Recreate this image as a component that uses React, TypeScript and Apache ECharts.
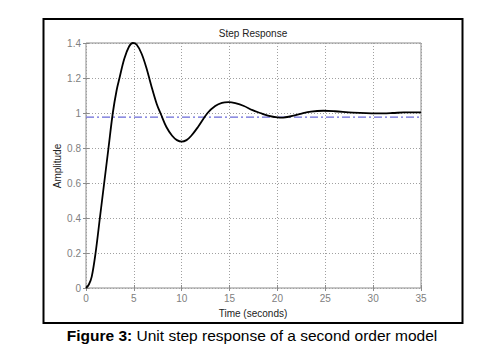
import React, { useEffect, useRef } from "react";
import * as echarts from "echarts";

const timeSeconds = [
  0, 0.3, 0.6, 1.0, 1.45, 1.9, 2.35, 2.8, 3.2, 3.5, 4.0, 4.5, 4.9, 5.3, 5.8, 6.3, 6.8, 7.4, 7.85,
  8.4, 9.0, 9.5, 10.0, 10.5, 11.0, 11.7, 12.7, 13.5, 14.2, 14.9, 15.6, 16.5, 17.4, 18.2, 19.0,
  20.0, 20.6, 21.3, 22.4, 23.5, 24.8, 26.0, 27.9, 30.4, 32.0, 33.2, 35.0,
];
const amplitude = [
  0, 0.02, 0.065, 0.2, 0.4, 0.6, 0.8, 1.0, 1.13, 1.2, 1.31, 1.38, 1.4, 1.39, 1.34, 1.26, 1.16,
  1.05, 0.99, 0.92, 0.87, 0.845, 0.836, 0.845, 0.87, 0.92, 1.0, 1.04, 1.058, 1.062, 1.056, 1.04,
  1.016, 1.0, 0.985, 0.975, 0.974, 0.98, 0.995, 1.008, 1.013, 1.01, 1.002, 0.998, 1.0, 1.003,
  1.004,
];
const referenceLevel = 0.976;
const xTicks = [0, 5, 10, 15, 20, 25, 30, 35];
const yTicks = [0, 0.2, 0.4, 0.6, 0.8, 1, 1.2, 1.4];

const titleText = "Step Response";
const xLabel = "Time (seconds)";
const yLabel = "Amplitude";
const captionBold = "Figure 3:";
const captionRest = " Unit step response of a second order model";

export default function App() {
  const ref = useRef<HTMLDivElement>(null);
  useEffect(() => {
    document.body.style.margin = "0";
    const chart = echarts.init(ref.current!, null, { renderer: "svg" });
    const font = "'Liberation Sans', Arial, sans-serif";
    const xMin = xTicks[0];
    const xMax = xTicks[xTicks.length - 1];
    const yMin = yTicks[0];
    const yMax = yTicks[yTicks.length - 1];
    const gridLine = { show: true, lineStyle: { color: "#a0a0a0", type: [1, 2] as any, width: 1 } };
    const labelStyle = { color: "#808080", fontSize: 10, fontFamily: font };
    const tick = { show: true, inside: true, length: 3, lineStyle: { color: "#8c8c8c" } };
    const smallText = { fontSize: 10, fill: "#222", fontFamily: font, align: "center", verticalAlign: "middle" };
    chart.setOption({
      animation: false,
      backgroundColor: "#ffffff",
      grid: {
        left: 86,
        top: 43,
        width: 335,
        height: 245,
        show: true,
        borderColor: "#8c8c8c",
        borderWidth: 1,
        backgroundColor: "transparent",
      },
      xAxis: [
        {
          type: "value",
          min: xMin,
          max: xMax,
          interval: 5,
          axisLine: { show: false },
          axisTick: tick,
          axisLabel: { ...labelStyle, margin: 5 },
          splitLine: gridLine,
        },
        {
          type: "value",
          position: "top",
          min: xMin,
          max: xMax,
          interval: 5,
          axisLine: { show: false },
          axisTick: tick,
          axisLabel: { show: false },
          splitLine: { show: false },
        },
      ],
      yAxis: [
        {
          type: "value",
          min: yMin,
          max: yMax,
          interval: 0.2,
          axisLine: { show: false },
          axisTick: tick,
          axisLabel: {
            ...labelStyle,
            margin: 5,
            formatter: (v: number) => String(Math.round(v * 10) / 10),
          },
          splitLine: gridLine,
        },
        {
          type: "value",
          position: "right",
          min: yMin,
          max: yMax,
          interval: 0.2,
          axisLine: { show: false },
          axisTick: tick,
          axisLabel: { show: false },
          splitLine: { show: false },
        },
      ],
      series: [
        {
          type: "line",
          data: [
            [xMin, referenceLevel],
            [xMax, referenceLevel],
          ],
          showSymbol: false,
          lineStyle: { color: "#6a6ad8", width: 1.2, type: [8, 3, 2, 3] as any },
          silent: true,
          z: 2,
        },
        {
          type: "line",
          data: timeSeconds.map((t, i) => [t, amplitude[i]]),
          smooth: 0.35,
          showSymbol: false,
          lineStyle: { color: "#000", width: 1.8 },
          silent: true,
          z: 3,
        },
      ],
      graphic: [
        {
          type: "rect",
          shape: { x: 43.5, y: 19, width: 419, height: 304 },
          style: { fill: "none", stroke: "#000", lineWidth: 2 },
          silent: true,
        },
        {
          type: "text",
          x: 253,
          y: 33,
          style: { ...smallText, text: titleText } as any,
        },
        {
          type: "text",
          x: 253,
          y: 313,
          style: { ...smallText, text: xLabel } as any,
        },
        {
          type: "text",
          x: 57,
          y: 166,
          rotation: Math.PI / 2,
          style: { ...smallText, text: yLabel } as any,
        },
        {
          type: "text",
          x: 252,
          y: 335,
          style: {
            text: `{b|${captionBold}}{n|${captionRest}}`,
            align: "center",
            verticalAlign: "middle",
            rich: {
              b: { fontSize: 15.5, fontWeight: "bold", fill: "#000", fontFamily: font },
              n: { fontSize: 15.5, fill: "#000", fontFamily: font },
            },
          } as any,
        },
      ],
    });
    return () => chart.dispose();
  }, []);
  return <div ref={ref} style={{ width: 493, height: 357, position: "fixed", left: 0, top: 0 }} />;
}
